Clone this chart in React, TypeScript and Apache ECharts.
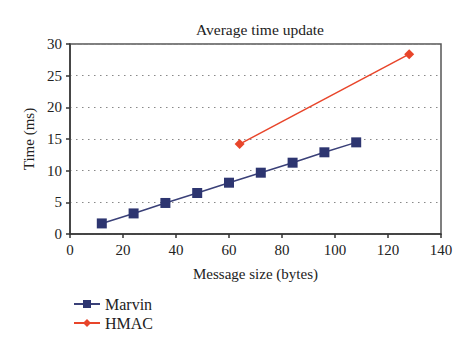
import React, { useEffect, useRef } from "react";
import * as echarts from "echarts";

const marvinX = [12, 24, 36, 48, 60, 72, 84, 96, 108];
const marvinY = [1.67, 3.25, 4.9, 6.47, 8.1, 9.68, 11.26, 12.9, 14.47];
const hmacX = [64, 128];
const hmacY = [14.2, 28.4];

const FONT = "Liberation Serif";

export default function App() {
  const ref = useRef<HTMLDivElement>(null);
  useEffect(() => {
    if (!ref.current) return;
    const chart = echarts.init(ref.current, null, { renderer: "svg" });
    chart.setOption({
      animation: false,
      backgroundColor: "#ffffff",
      textStyle: { fontFamily: FONT, color: "#222" },
      title: {
        text: "Average time update",
        left: 255,
        textAlign: "center",
        top: 16,
        textStyle: { fontFamily: FONT, fontSize: 15.5, fontWeight: "normal", color: "#222" },
      },
      grid: {
        left: 70,
        right: 33,
        top: 44,
        bottom: 115,
        show: true,
        borderColor: "#555",
        borderWidth: 1.5,
        backgroundColor: "transparent",
      },
      legend: {
        orient: "vertical",
        left: 68,
        top: 291,
        itemWidth: 26,
        itemHeight: 10,
        itemGap: 3,
        textStyle: { fontFamily: FONT, fontSize: 16, color: "#222" },
        data: ["Marvin", "HMAC"],
      },
      xAxis: {
        type: "value",
        min: 0,
        max: 140,
        interval: 20,
        name: "Message size (bytes)",
        nameLocation: "middle",
        nameGap: 32,
        nameTextStyle: { fontFamily: FONT, fontSize: 15, color: "#222" },
        axisLine: { show: true, lineStyle: { color: "#333", width: 1.5 } },
        axisTick: { show: true, length: 4, lineStyle: { color: "#333", width: 1.5 } },
        axisLabel: { fontFamily: FONT, fontSize: 15, color: "#222", margin: 8 },
        splitLine: { show: false },
      },
      yAxis: {
        type: "value",
        min: 0,
        max: 30,
        interval: 5,
        name: "Time (ms)",
        nameLocation: "middle",
        nameGap: 30,
        nameTextStyle: { fontFamily: FONT, fontSize: 15, color: "#222" },
        axisLine: { show: true, lineStyle: { color: "#333", width: 1.5 } },
        axisTick: { show: true, length: 4, lineStyle: { color: "#333", width: 1.5 } },
        axisLabel: { fontFamily: FONT, fontSize: 15, color: "#222", margin: 8 },
        splitLine: { show: true, lineStyle: { color: "#888", type: [1.5, 4.5], width: 1.2 } },
      },
      series: [
        {
          name: "Marvin",
          type: "line",
          data: marvinX.map((x, i) => [x, marvinY[i]]),
          symbol: "rect",
          symbolSize: 10,
          color: "#2d3570",
          lineStyle: { color: "#3a4078", width: 1.5 },
          itemStyle: { color: "#2d3570" },
        },
        {
          name: "HMAC",
          type: "line",
          data: hmacX.map((x, i) => [x, hmacY[i]]),
          symbol: "diamond",
          symbolSize: 10,
          color: "#e8452a",
          lineStyle: { color: "#e8452a", width: 1.5 },
          itemStyle: { color: "#e8452a" },
        },
      ],
    });
    return () => chart.dispose();
  }, []);
  return <div ref={ref} style={{ width: 474, height: 349, margin: -8 }} />;
}
